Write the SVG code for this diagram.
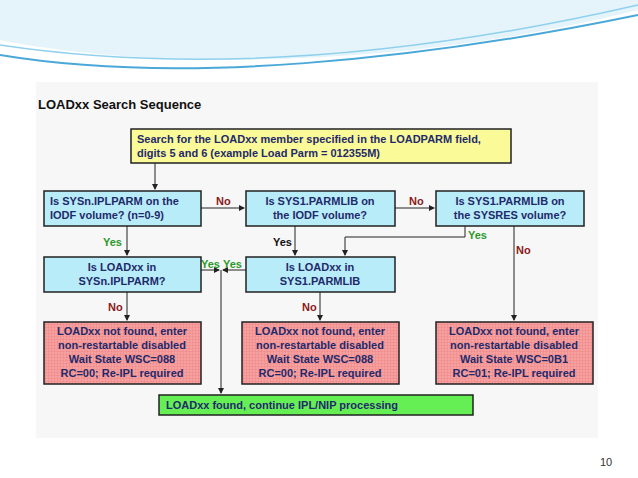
<svg xmlns="http://www.w3.org/2000/svg" width="638" height="478" viewBox="0 0 638 478">
<style>
.t{font-family:"Liberation Sans",Arial,sans-serif;font-weight:bold;font-size:11px;fill:#1f2a6b}
.c{text-anchor:middle}
.no{font-family:"Liberation Sans",Arial,sans-serif;font-weight:bold;font-size:11px;fill:#8b1a1a}
.yes{font-family:"Liberation Sans",Arial,sans-serif;font-weight:bold;font-size:11px;fill:#2a9a2a}
.blue{fill:#b8ecf8;stroke:#222;stroke-width:1.5}
.red{fill:url(#grid);stroke:#222;stroke-width:1.5}
.ln{stroke:#222;stroke-width:1;fill:none}
</style>
<defs>
<marker id="a" markerWidth="6" markerHeight="6" refX="5" refY="3" orient="auto"><path d="M0,0L6,3L0,6z" fill="#222"/></marker>
<pattern id="grid" width="3" height="3" patternUnits="userSpaceOnUse"><rect width="3" height="3" fill="#f6a0a0"/><path d="M0,0H3M0,0V3" stroke="#e87878" stroke-width="0.6"/></pattern>
</defs>
<rect width="638" height="478" fill="#fff"/>
<path d="M0,40 C150,70 400,70 638,10 L638,0 L0,0z" fill="#e4f4fa"/>
<path d="M0,55 C180,85 420,60 638,15" stroke="#4aa8d8" stroke-width="2" fill="none"/>
<path d="M0,45 C200,75 420,55 638,5" stroke="#8fd0ee" stroke-width="1.5" fill="none"/>
<rect x="36" y="82" width="562" height="356" fill="#f7f7f7"/>
<text x="38" y="109" style="font-family:'Liberation Sans',Arial,sans-serif;font-weight:bold;font-size:13px;fill:#111">LOADxx Search Sequence</text>
<g id="connectors">
<line class="ln" x1="155" y1="163" x2="155" y2="189" marker-end="url(#a)"/>
<line class="ln" x1="201" y1="208" x2="244" y2="208" marker-end="url(#a)"/>
<line class="ln" x1="395" y1="208" x2="434" y2="208" marker-end="url(#a)"/>
<line class="ln" x1="127" y1="226" x2="127" y2="255" marker-end="url(#a)"/>
<line class="ln" x1="295" y1="226" x2="295" y2="255" marker-end="url(#a)"/>
<polyline class="ln" points="465,226 465,237 345,237 345,255" marker-end="url(#a)"/>
<line class="ln" x1="514" y1="226" x2="514" y2="320" marker-end="url(#a)"/>
<line class="ln" x1="127" y1="292" x2="127" y2="320" marker-end="url(#a)"/>
<line class="ln" x1="320" y1="292" x2="320" y2="320" marker-end="url(#a)"/>
<line class="ln" x1="201" y1="270" x2="219" y2="270" marker-end="url(#a)"/>
<line class="ln" x1="246" y1="270" x2="223" y2="270" marker-end="url(#a)"/>
<line class="ln" x1="221" y1="270" x2="221" y2="393" marker-end="url(#a)"/>
<text class="no" x="216" y="205">No</text>
<text class="no" x="409" y="205">No</text>
<text class="yes" x="103" y="246">Yes</text>
<text class="t" x="273" y="246" style="fill:#111">Yes</text>
<text class="yes" x="468" y="239">Yes</text>
<text class="no" x="516" y="254">No</text>
<text class="yes" x="201" y="268">Yes</text>
<text class="yes" x="223" y="268">Yes</text>
<text class="no" x="108" y="311">No</text>
<text class="no" x="302" y="311">No</text>
</g>
<g id="start"><rect x="131" y="129" width="380" height="34" fill="#fafa98" stroke="#222" stroke-width="1.5"/>
<text class="t" x="137" y="143">Search for the LOADxx member specified in the LOADPARM field,</text>
<text class="t" x="137" y="157">digits 5 and 6 (example Load Parm = 012355M)</text></g>
<g id="q1"><rect class="blue" x="44" y="191" width="157" height="35"/>
<text class="t" x="50" y="205">Is SYSn.IPLPARM on the</text><text class="t" x="50" y="219">IODF volume? (n=0-9)</text></g>
<g id="q2"><rect class="blue" x="246" y="191" width="149" height="35"/>
<text class="t c" x="320" y="205">Is SYS1.PARMLIB on</text><text class="t c" x="320" y="219">the IODF volume?</text></g>
<g id="q3"><rect class="blue" x="436" y="191" width="148" height="35"/>
<text class="t c" x="510" y="205">Is SYS1.PARMLIB on</text><text class="t c" x="510" y="219">the SYSRES volume?</text></g>
<g id="q4"><rect class="blue" x="44" y="257" width="157" height="35"/>
<text class="t c" x="122" y="271">Is LOADxx in</text><text class="t c" x="122" y="285">SYSn.IPLPARM?</text></g>
<g id="q5"><rect class="blue" x="246" y="257" width="149" height="35"/>
<text class="t c" x="320" y="271">Is LOADxx in</text><text class="t c" x="320" y="285">SYS1.PARMLIB</text></g>
<g id="r1"><rect class="red" x="44" y="322" width="157" height="62"/>
<text class="t c" x="122" y="335">LOADxx not found, enter</text><text class="t c" x="122" y="349">non-restartable disabled</text><text class="t c" x="122" y="363">Wait State WSC=088</text><text class="t c" x="122" y="377">RC=00; Re-IPL required</text></g>
<g id="r2"><rect class="red" x="242" y="322" width="157" height="62"/>
<text class="t c" x="320" y="335">LOADxx not found, enter</text><text class="t c" x="320" y="349">non-restartable disabled</text><text class="t c" x="320" y="363">Wait State WSC=088</text><text class="t c" x="320" y="377">RC=00; Re-IPL required</text></g>
<g id="r3"><rect class="red" x="436" y="322" width="157" height="62"/>
<text class="t c" x="514" y="335">LOADxx not found, enter</text><text class="t c" x="514" y="349">non-restartable disabled</text><text class="t c" x="514" y="363">Wait State WSC=0B1</text><text class="t c" x="514" y="377">RC=01; Re-IPL required</text></g>
<g id="found"><rect x="159" y="395" width="314" height="20" fill="#66ee55" stroke="#222" stroke-width="1.5"/>
<text class="t" x="166" y="409">LOADxx found, continue IPL/NIP processing</text></g>
<text x="600" y="466" style="font-family:'Liberation Sans',Arial,sans-serif;font-size:11px;fill:#333">10</text>
</svg>
